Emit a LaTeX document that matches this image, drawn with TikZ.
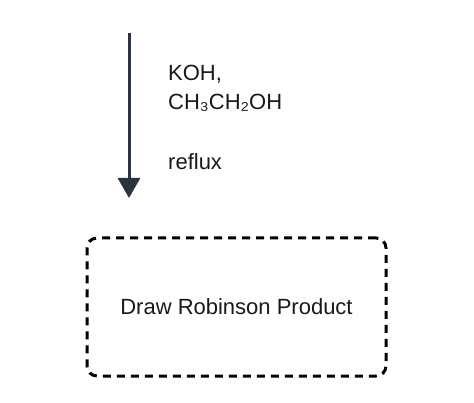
\documentclass[tikz,border=0pt]{standalone}
\usepackage{fontspec}
\setmainfont{Liberation Sans}
\definecolor{arrowC}{RGB}{45, 51, 62}
\definecolor{textC}{RGB}{25, 25, 25}
\usetikzlibrary{arrows.meta, positioning}

\begin{document}
\begin{tikzpicture}[x=1pt, y=-1pt,
    reagent/.style={font=\fontsize{22}{26}\selectfont, text=textC, anchor=base west, inner sep=0pt},
    productbox/.style={draw=black, line width=3pt, dash pattern=on 8pt off 6pt, rounded corners=10pt,
        minimum width=299pt, minimum height=138pt, font=\fontsize{22}{26}\selectfont, text=textC}]
        \useasboundingbox (0,0) rectangle (474,403);

        % Reaction arrow
        \coordinate (arrowtop) at (129,33);
        \coordinate (arrowend) at (129,198);
        \draw[arrowC, line width=3pt, -{Triangle[length=20pt, width=22pt]}] (arrowtop) -- (arrowend);

        % Conditions
        \node[reagent] (koh) at (168,81) {KOH,};
        \node[reagent] (etoh) at (168,110) {CH₃CH₂OH};
        \node[reagent] (reflux) at (168,170) {reflux};

        % Product placeholder
        \node[productbox] (product) at (236.5,307) {Draw Robinson Product};
    \end{tikzpicture}
\end{document}
